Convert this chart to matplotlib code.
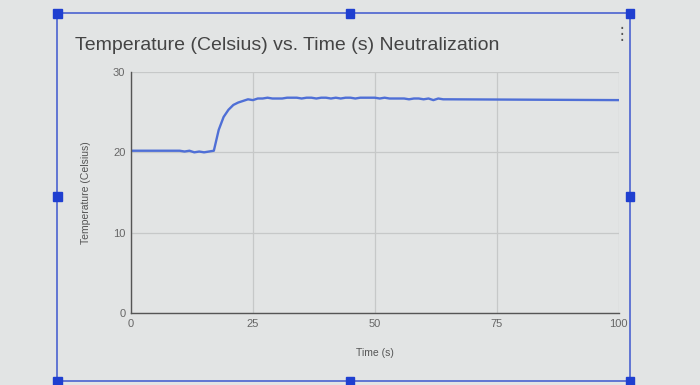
import matplotlib.pyplot as plt
from matplotlib.patches import Rectangle

plt.rcParams['font.family'] = ['Liberation Sans', 'DejaVu Sans']

# temperature readings, one per second, plus the last reading at 100 s
time_s = list(range(0, 66)) + [100]
temp_c = [20.2, 20.2, 20.2, 20.2, 20.2, 20.2, 20.2, 20.2, 20.2, 20.2,
          20.2, 20.1, 20.2, 20.0, 20.1, 20.0, 20.1, 20.2, 22.8, 24.4,
          25.3, 25.9, 26.2, 26.4, 26.6, 26.5, 26.7, 26.7, 26.8, 26.7,
          26.7, 26.7, 26.8, 26.8, 26.8, 26.7, 26.8, 26.8, 26.7, 26.8,
          26.8, 26.7, 26.8, 26.7, 26.8, 26.8, 26.7, 26.8, 26.8, 26.8,
          26.8, 26.7, 26.8, 26.7, 26.7, 26.7, 26.7, 26.6, 26.7, 26.7,
          26.6, 26.7, 26.5, 26.7, 26.6, 26.6, 26.5]

x_ticks = [0, 25, 50, 75, 100]
y_ticks = [0, 10, 20, 30]

bg = '#e2e4e4'
fig = plt.figure(figsize=(7, 3.85), dpi=100, facecolor=bg)
ax = fig.add_axes([0.187, 0.187, 0.697, 0.626], facecolor=bg)

ax.plot(time_s, temp_c, color='#4f6fd6', linewidth=1.7)

ax.set_xlim(0, 100)
ax.set_ylim(0, 30)
ax.set_xticks(x_ticks)
ax.set_yticks(y_ticks)
ax.grid(True, color='#c6c8c8', linewidth=0.9)
ax.tick_params(length=0, labelsize=8, labelcolor='#666666', pad=4)
for s in ['top', 'right']:
    ax.spines[s].set_visible(False)
for s in ['left', 'bottom']:
    ax.spines[s].set_color('#555555')
    ax.spines[s].set_linewidth(1.0)

ax.set_xlabel('Time (s)', fontsize=7.5, color='#555555', labelpad=14)
ax.set_ylabel('Temperature (Celsius)', fontsize=7.5, color='#555555', labelpad=16)

fig.text(0.107, 0.883, 'Temperature (Celsius) vs. Time (s) Neutralization',
         fontsize=14, color='#444444', va='center')

# selection frame around the chart
frame = Rectangle((0.082, 0.01), 0.818, 0.955, transform=fig.transFigure,
                  fill=False, edgecolor='#4a62d0', linewidth=1.2)
fig.patches.append(frame)
for hx, hy in [(0.082, 0.965), (0.5, 0.965), (0.9, 0.965),
               (0.082, 0.49), (0.9, 0.49),
               (0.082, 0.01), (0.5, 0.01), (0.9, 0.01)]:
    fig.patches.append(Rectangle((hx - 0.006, hy - 0.011), 0.012, 0.022,
                                 transform=fig.transFigure, color='#1f3fd0'))
fig.text(0.888, 0.91, '\u22ee', fontsize=12, color='#555555', ha='center', va='center')

fig.savefig('out.png', dpi=100, facecolor=bg)
